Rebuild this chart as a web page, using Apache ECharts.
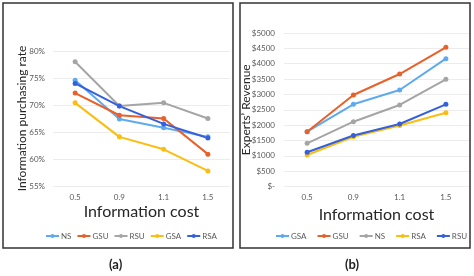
<!DOCTYPE html>
<html>
<head>
<meta charset="utf-8">
<script src="https://cdn.jsdelivr.net/npm/echarts@6/dist/echarts.min.js"></script>
<style>
  html, body { margin: 0; padding: 0; background: #fff; }
  #chart { width: 474px; height: 276px; }
</style>
</head>
<body>
<div id="chart"></div>
<script>
// категории по оси X (общие для двух панелей)
const costs = ['0.5', '0.9', '1.1', '1.5'];

// панель (a) — доля покупки информации, %
const rateNS  = [74.6, 67.4, 65.8, 64.1];
const rateGSU = [72.2, 68.1, 67.5, 60.9];
const rateRSU = [78.0, 69.8, 70.4, 67.5];
const rateGSA = [70.4, 64.1, 61.8, 57.8];
const rateRSA = [74.0, 69.8, 66.5, 63.9];

// панель (b) — доход экспертов, $
const revGSA = [1785, 2677, 3143, 4163];
const revGSU = [1785, 2980, 3664, 4534];
const revNS  = [1407, 2111, 2655, 3492];
const revRSA = [1026, 1620, 1985, 2404];
const revRSU = [1114, 1660, 2036, 2677];

const FONT = 'Lato';
const colors = {
    light: '#5eaaf0',
    orange: '#e8602a',
    gray: '#a5a5a5',
    yellow: '#fbbd10',
    blue: '#3560dc'
};

const chart = echarts.init(document.getElementById('chart'));

function line(name, data, color, idx) {
    return {
        name,
        type: 'line',
        xAxisIndex: idx,
        yAxisIndex: idx,
        data,
        symbol: 'circle',
        symbolSize: 5,
        lineStyle: { width: 2, color },
        itemStyle: { color },
        animation: false
    };
}

const labelStyle = { fontFamily: FONT, fontSize: 8, color: '#595959' };
const legendBase = {
    top: 232,
    padding: 0,
    width: 230,
    itemWidth: 13,
    itemHeight: 5,
    textStyle: Object.assign({ padding: [0, 0, 0, -3] }, labelStyle)
};

const option = {
    animation: false,
    textStyle: { fontFamily: FONT },
    grid: [
        { left: 53, right: 244, top: 51, bottom: 90 },
        { left: 284, right: 5, top: 33, bottom: 89.5 }
    ],
    xAxis: [0, 1].map(i => ({
        type: 'category',
        gridIndex: i,
        data: costs,
        name: 'Information cost',
        nameLocation: 'middle',
        nameGap: 18,
        nameTextStyle: { fontFamily: FONT, fontSize: 16, color: '#262626' },
        axisLine: { show: false },
        axisTick: { show: false },
        axisLabel: Object.assign({ margin: 7 }, labelStyle)
    })),
    yAxis: [
        {
            type: 'value',
            gridIndex: 0,
            min: 55,
            max: 80,
            interval: 5,
            name: 'Information purchasing rate',
            nameLocation: 'middle',
            nameMoveOverlap: false,
            nameGap: 25,
            nameTextStyle: { fontFamily: FONT, fontSize: 12, color: '#262626' },
            axisLabel: Object.assign({ formatter: v => v + '%', margin: 8 }, labelStyle),
            splitLine: { lineStyle: { color: '#ececec' } }
        },
        {
            type: 'value',
            gridIndex: 1,
            min: 0,
            max: 5000,
            interval: 500,
            name: 'Experts\u2019 Revenue',
            nameLocation: 'middle',
            nameMoveOverlap: false,
            nameGap: 32,
            nameTextStyle: { fontFamily: FONT, fontSize: 12, color: '#262626' },
            axisLabel: Object.assign({ formatter: v => v === 0 ? '$-' : '$' + v, margin: 9 }, labelStyle),
            splitLine: { lineStyle: { color: '#ececec' } }
        }
    ],
    legend: [
        Object.assign({}, legendBase, {
            data: ['NS', 'GSU', 'RSU', 'GSA', 'RSA'],
            left: 45,
            itemGap: 5
        }),
        Object.assign({}, legendBase, {
            data: ['GSA ', 'GSU ', 'NS ', 'RSA ', 'RSU '],
            left: 275,
            itemGap: 8
        })
    ],
    series: [
        line('NS', rateNS, colors.light, 0),
        line('GSU', rateGSU, colors.orange, 0),
        line('RSU', rateRSU, colors.gray, 0),
        line('GSA', rateGSA, colors.yellow, 0),
        line('RSA', rateRSA, colors.blue, 0),
        // имена с пробелом, чтобы легенды панелей не путались
        line('GSA ', revGSA, colors.light, 1),
        line('GSU ', revGSU, colors.orange, 1),
        line('NS ', revNS, colors.gray, 1),
        line('RSA ', revRSA, colors.yellow, 1),
        line('RSU ', revRSU, colors.blue, 1)
    ],
    graphic: [
        { type: 'rect', shape: { x: 3, y: 3, width: 230, height: 245 }, style: { fill: 'none', stroke: '#333', lineWidth: 1.5 }, silent: true },
        { type: 'rect', shape: { x: 240, y: 3, width: 230, height: 245 }, style: { fill: 'none', stroke: '#333', lineWidth: 1.5 }, silent: true },
        { type: 'text', left: 109, top: 258, style: { text: '(a)', font: 'bold 13px ' + FONT, fill: '#222' } },
        { type: 'text', left: 345, top: 258, style: { text: '(b)', font: 'bold 13px ' + FONT, fill: '#222' } }
    ]
};

chart.setOption(option);
</script>
</body>
</html>
